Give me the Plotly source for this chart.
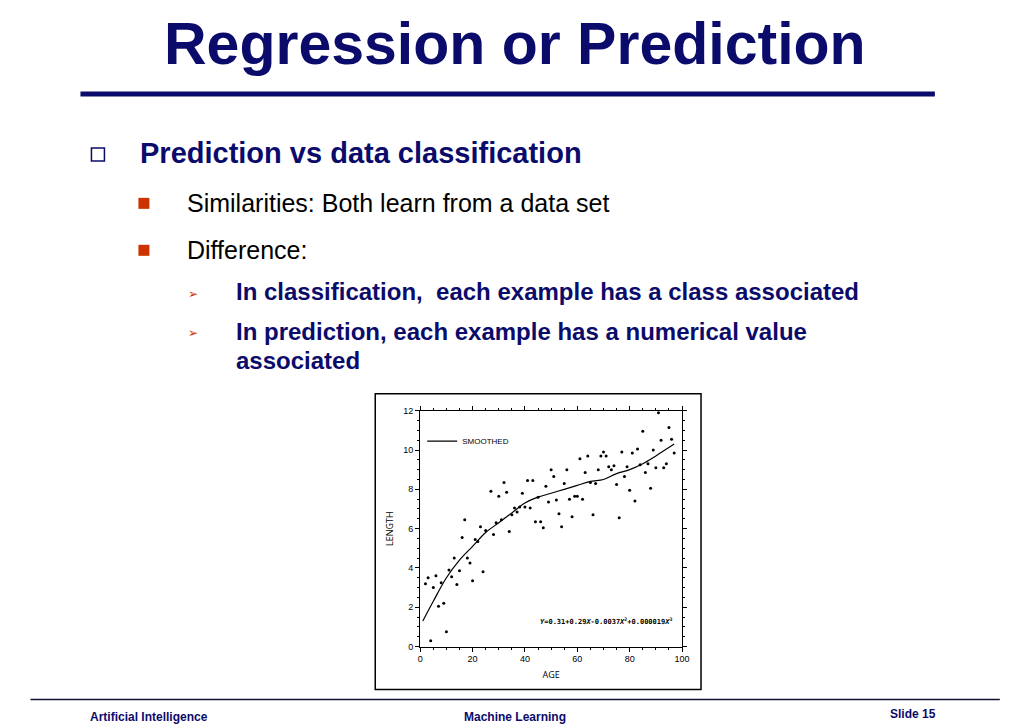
import plotly.graph_objects as go

W, H = 1030, 728
# the page shows the figure shifted by about 10px and scaled by about 0.99,
# so window-pixel positions are converted back to figure pixels
AX, BX = 10.5, 0.99
AY, BY = 11.0, 0.987

age = [2, 3, 4, 5, 6, 7, 8, 9, 10, 11, 12, 13, 14, 15, 16, 17, 18, 19, 20, 21,
       22, 23, 24, 25, 27, 28, 29, 30, 31, 32, 33, 34, 35, 36, 37, 38, 39, 40,
       41, 42, 43, 44, 45, 46, 47, 48, 49, 50, 51, 52, 53, 54, 55, 56, 57, 58,
       59, 60, 61, 62, 63, 64, 65, 66, 67, 68, 69, 70, 71, 72, 73, 74, 75, 76,
       77, 78, 79, 80, 81, 82, 83, 84, 85, 86, 87, 88, 89, 90, 91, 92, 93, 94,
       95, 96, 97]
length = [3.2, 3.5, 0.3, 3.0, 3.6, 2.05, 3.25, 2.2, 0.75, 3.9, 3.55, 4.5, 3.15,
          3.85, 5.55, 6.45, 4.5, 4.25, 3.35, 5.45, 5.35, 6.1, 3.8, 5.9, 7.9, 5.7,
          6.3, 7.65, 6.45, 8.35, 7.85, 5.85, 6.7, 7.05, 6.85, 7.1, 7.8, 7.1, 8.45,
          7.05, 8.45, 6.35, 7.6, 6.35, 6.05, 8.15, 7.35, 9.0, 8.65, 7.45, 6.75,
          6.1, 8.3, 9.0, 7.5, 6.6, 7.65, 7.65, 9.55, 7.5, 8.85, 9.7, 8.35, 6.7,
          8.3, 9.0, 9.7, 9.9, 9.7, 9.15, 9.0, 9.2, 8.25, 6.55, 9.9, 8.65, 9.15,
          7.95, 9.85, 7.4, 10.05, 9.25, 10.95, 8.85, 9.3, 8.05, 10.0, 9.1, 11.9,
          10.5, 9.1, 9.3, 11.15, 10.55, 9.85]

smooth_age = [1, 5, 10, 15, 20, 25, 30, 35, 40, 45, 50, 55, 60, 65, 70, 75, 80,
              85, 90, 97]
smooth_len = [1.3, 2.3, 3.5, 4.4, 5.1, 5.8, 6.3, 6.8, 7.3, 7.6, 7.8, 8.0, 8.2,
              8.4, 8.5, 8.8, 9.0, 9.3, 9.7, 10.3]

NAVY = "#0b0b6b"
RED = "#cc3300"


def px(x):
    return (x - AX) / BX / W


def py(y):
    return 1 - (y - AY) / BY / H


fig = go.Figure()
fig.add_trace(go.Scatter(x=age, y=length, mode="markers",
                         marker=dict(size=3, color="black"), showlegend=False))
fig.add_trace(go.Scatter(x=smooth_age, y=smooth_len, mode="lines", name="SMOOTHED",
                         line=dict(color="black", width=1.2, shape="spline")))

tick = dict(ticks="outside", ticklen=4, tickcolor="black", showline=True,
            linecolor="black", linewidth=1.2, mirror="ticks", showgrid=False,
            zeroline=False, tickfont=dict(size=9, family="Liberation Sans", color="black"))

fig.update_xaxes(domain=[px(420), px(682)], range=[0, 100], dtick=20,
                 minor=dict(dtick=5, ticks="outside", ticklen=2, tickcolor="black"),
                 title=dict(text="AGE", font=dict(size=9, color="black"), standoff=8),
                 **tick)
fig.update_yaxes(domain=[py(645), py(409)], range=[0, 12], dtick=2,
                 minor=dict(dtick=0.5, ticks="outside", ticklen=2, tickcolor="black"),
                 title=dict(text="LENGTH", font=dict(size=9, color="black"), standoff=8),
                 **tick)

shapes = [
    dict(type="rect", xref="paper", yref="paper", x0=px(375), x1=px(701),
         y0=py(688), y1=py(392), line=dict(color="black", width=1.5)),
    dict(type="line", xref="paper", yref="paper", x0=px(80), x1=px(935),
         y0=py(92), y1=py(92), line=dict(color=NAVY, width=5)),
    dict(type="line", xref="paper", yref="paper", x0=px(30), x1=px(1000),
         y0=py(698), y1=py(698), line=dict(color="#111133", width=1.5)),
    dict(type="rect", xref="paper", yref="paper", x0=px(91), x1=px(104),
         y0=py(159), y1=py(146), line=dict(color=NAVY, width=1.5)),
]
for yy in (201, 248):
    shapes.append(dict(type="rect", xref="paper", yref="paper", x0=px(138), x1=px(149),
                       y0=py(yy + 6), y1=py(yy - 5), fillcolor=RED, line=dict(width=0)))


def txt(x, y, s, size, color, bold=False, family="Liberation Sans", xanchor="left"):
    return dict(x=px(x), y=py(y), xref="paper", yref="paper", xanchor=xanchor,
                yanchor="middle", showarrow=False,
                text=f"<b>{s}</b>" if bold else s,
                font=dict(size=size, color=color, family=family))


ann = [
    txt(515, 42, "Regression or Prediction", 59, NAVY, True, xanchor="center"),
    txt(138, 151, "Prediction vs data classification", 29, NAVY, True),
    txt(185, 201, "Similarities: Both learn from a data set", 25, "black"),
    txt(185, 248, "Difference:", 25, "black"),
    txt(186, 292, "➢", 12, RED),
    txt(186, 331, "➢", 12, RED),
    txt(234, 290, "In classification,  each example has a class associated", 24, NAVY, True),
    txt(234, 330, "In prediction, each example has a numerical value", 24, NAVY, True),
    txt(234, 359, "associated", 24, NAVY, True),
    txt(88, 716, "Artificial Intelligence", 12, NAVY, True),
    txt(515, 716, "Machine Learning", 12, NAVY, True, xanchor="center"),
    txt(938, 713, "Slide 15", 12, NAVY, True, xanchor="right"),
    dict(x=97, y=1.3, xref="x", yref="y", xanchor="right", showarrow=False,
         text="<b><i>Y</i>=0.31+0.29<i>X</i>-0.0037<i>X</i><sup>2</sup>+0.000019<i>X</i><sup>3</sup></b>",
         font=dict(size=7, family="DejaVu Sans Mono", color="black")),
]

fig.update_layout(width=W, height=H, margin=dict(l=0, r=0, t=0, b=0),
                  paper_bgcolor="white", plot_bgcolor="white",
                  shapes=shapes, annotations=ann,
                  legend=dict(x=px(422), y=py(425), xanchor="left", yanchor="top",
                              bgcolor="rgba(0,0,0,0)",
                              font=dict(size=8, color="black", family="Liberation Sans"),
                              itemwidth=30))

fig.write_html("out.html")
